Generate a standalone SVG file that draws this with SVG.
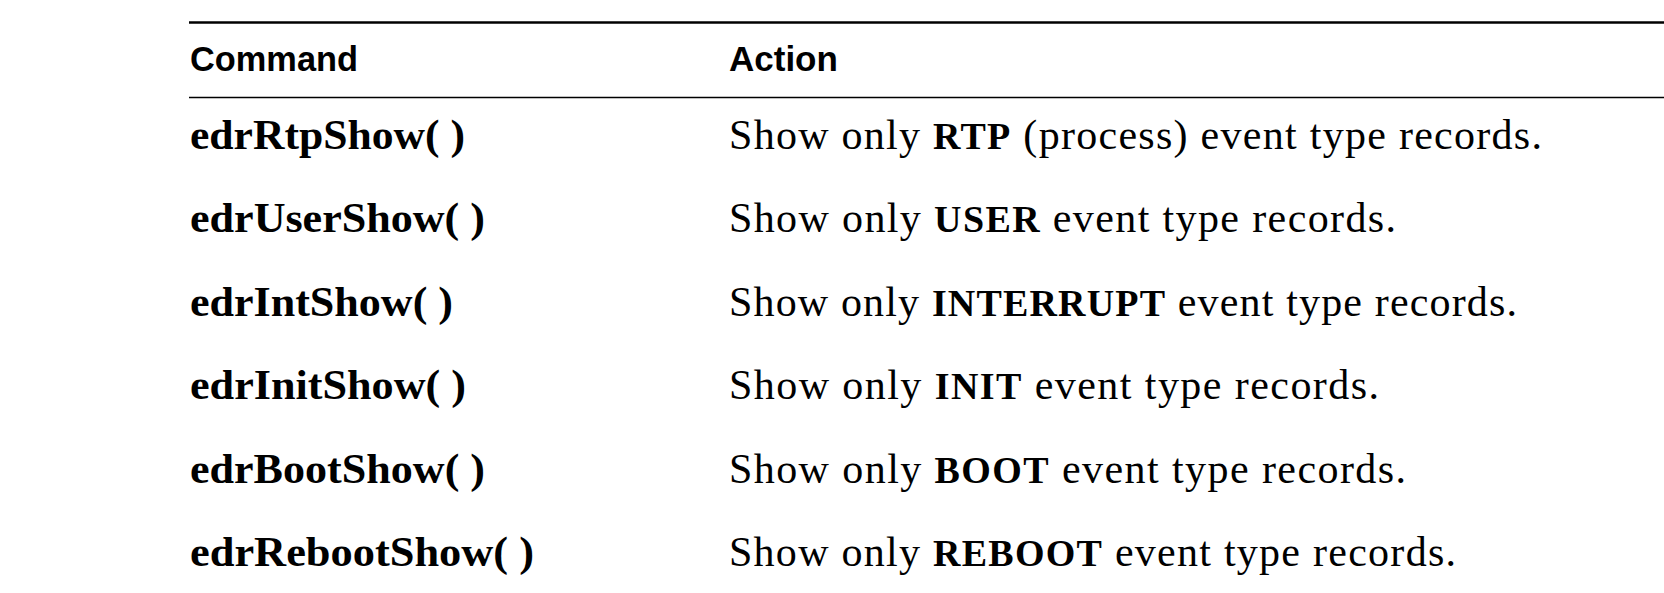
<svg xmlns="http://www.w3.org/2000/svg" width="1664" height="593" viewBox="0 0 1664 593">
<style>
.hd{font-family:"Liberation Sans",Arial,sans-serif;font-weight:bold;font-size:35px;fill:#000}
.cmd{font-family:"Liberation Serif","Times New Roman",serif;font-weight:bold;font-size:42px;fill:#000}
.act{font-family:"Liberation Serif","Times New Roman",serif;font-size:42px;fill:#000}
.b{font-weight:bold;font-size:38px}
.rule{stroke:#000}
</style>
<rect width="1664" height="593" fill="#fff"/>
<g id="rules">
<line class="rule" x1="189" y1="22.5" x2="1664" y2="22.5" stroke-width="2.6"/>
<line class="rule" x1="189" y1="97.5" x2="1664" y2="97.5" stroke-width="1.4"/>
</g>
<g id="header">
<text class="hd" x="190" y="71" textLength="168" lengthAdjust="spacingAndGlyphs">Command</text>
<text class="hd" x="729" y="71">Action</text>
</g>
<g id="row1">
<text class="cmd" x="190" y="149" textLength="275" lengthAdjust="spacingAndGlyphs">edrRtpShow( )</text>
<text class="act" x="729" y="149" textLength="813">Show only <tspan class="b">RTP</tspan> (process) event type records.</text>
</g>
<g id="row2">
<text class="cmd" x="190" y="232.4" textLength="295" lengthAdjust="spacingAndGlyphs">edrUserShow( )</text>
<text class="act" x="729" y="232.4" textLength="667">Show only <tspan class="b">USER</tspan> event type records.</text>
</g>
<g id="row3">
<text class="cmd" x="190" y="315.8" textLength="263" lengthAdjust="spacingAndGlyphs">edrIntShow( )</text>
<text class="act" x="729" y="315.8" textLength="788">Show only <tspan class="b">INTERRUPT</tspan> event type records.</text>
</g>
<g id="row4">
<text class="cmd" x="190" y="399.2" textLength="276" lengthAdjust="spacingAndGlyphs">edrInitShow( )</text>
<text class="act" x="729" y="399.2" textLength="650">Show only <tspan class="b">INIT</tspan> event type records.</text>
</g>
<g id="row5">
<text class="cmd" x="190" y="482.6" textLength="295" lengthAdjust="spacingAndGlyphs">edrBootShow( )</text>
<text class="act" x="729" y="482.6" textLength="677">Show only <tspan class="b">BOOT</tspan> event type records.</text>
</g>
<g id="row6">
<text class="cmd" x="190" y="566" textLength="344" lengthAdjust="spacingAndGlyphs">edrRebootShow( )</text>
<text class="act" x="729" y="566" textLength="727">Show only <tspan class="b">REBOOT</tspan> event type records.</text>
</g>
</svg>
